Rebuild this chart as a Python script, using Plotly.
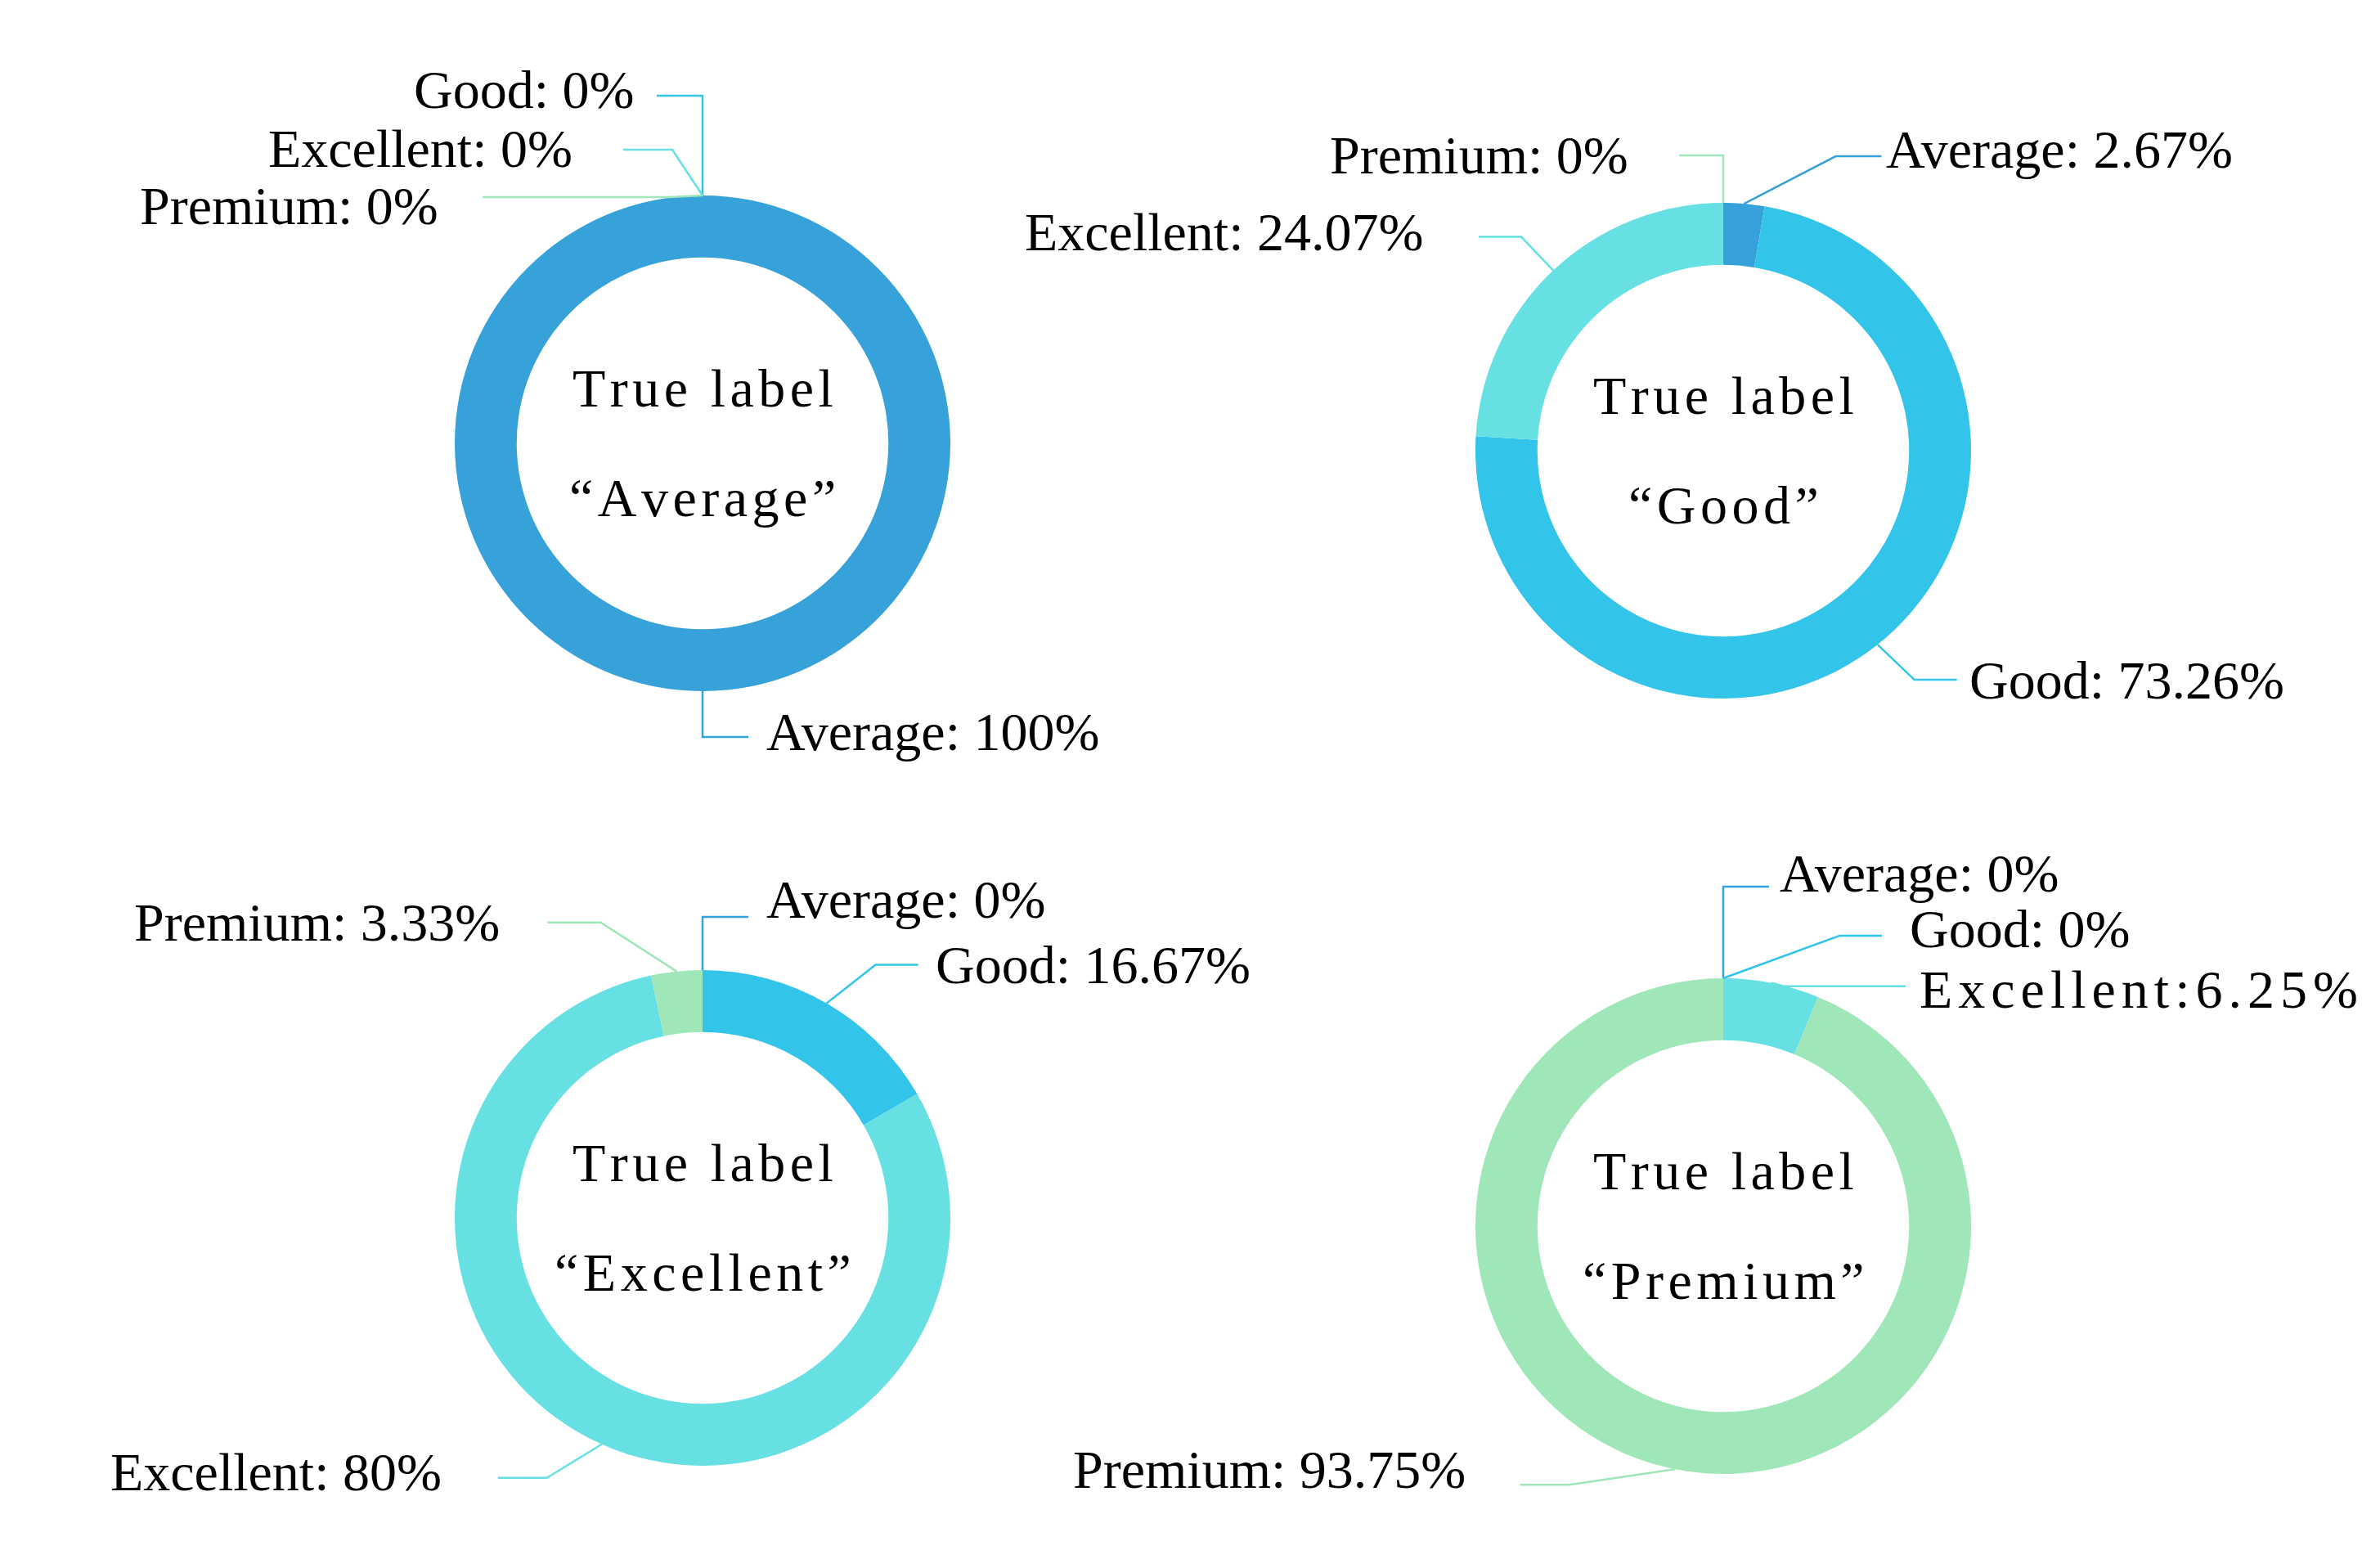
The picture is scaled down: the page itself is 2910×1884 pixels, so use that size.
import math
import plotly.graph_objects as go

# canvas size (px)
W, H = 2910, 1884
FONT = "Liberation Serif"

# categories and colours (ECharts default palette)
categories = ["Average", "Good", "Excellent", "Premium"]
colors = ["#37A2DA", "#32C5E9", "#67E0E3", "#9FE6B8"]

# predicted share (%) for each true label
true_labels = ["Average", "Good", "Excellent", "Premium"]
pct_average = [100, 0, 0, 0]
pct_good = [2.67, 73.26, 24.07, 0]
pct_excellent = [0, 16.67, 80, 3.33]
pct_premium = [0, 0, 6.25, 93.75]
shares = [pct_average, pct_good, pct_excellent, pct_premium]

# layout: donut centres and radius in pixels
centers = [(851, 534), (2099, 543), (851, 1481), (2099, 1491)]
R = 303
HOLE = 0.75

# label lines per slice: (elbow dx, elbow dy, horizontal run, text gap, text dy)
leaders = [
    [(0, 56, 56, 20, -6), (0, -122, -56, 26, -8), (-37, -56, -60, 60, -1), (-41, 2, -228, 52, 11)],
    [(112, -58, 56, 4, -9), (45, 43, 52, 13, 0), (-39, -41, -52, 65, -6), (0, -58, -54, 60, 0)],
    [(0, -65, 56, 20, -22), (60, -47, 52, 19, 0), (-67, 41, -60, 67, -7), (-93, -60, -65, 56, 0)],
    [(0, -112, 56, 11, -17), (142, -52, 52, 32, -9), (15, 4, 149, 15, 4), (-129, 19, -60, 65, -19)],
]
spaced = {(3, 2)}  # label typed with tracking in the original


def px(x):
    return x / W


def py(y):
    return 1 - y / H


def tracked(s):
    # widen the centre captions a little, like the original
    return "\u200a".join(s)


fig = go.Figure()
shapes = []
annotations = []

for k, vals in enumerate(shares):
    cx, cy = centers[k]
    fig.add_trace(go.Pie(
        labels=categories, values=vals, hole=HOLE, sort=False,
        direction="clockwise", rotation=0, textinfo="none",
        marker=dict(colors=colors, line=dict(width=0)),
        domain=dict(x=[px(cx - R), px(cx + R)], y=[py(cy + R), py(cy - R)]),
        showlegend=False, hoverinfo="label+percent",
    ))

    total = sum(vals)
    cum = 0
    for i, v in enumerate(vals):
        theta = math.radians(360 * (cum + v / 2) / total)
        cum += v
        x0 = cx + R * math.sin(theta)
        y0 = cy - R * math.cos(theta)
        dx, dy, run, gap, tdy = leaders[k][i]
        x1, y1 = x0 + dx, y0 + dy
        x2 = x1 + run
        shapes.append(dict(
            type="path", xref="paper", yref="paper",
            path=f"M {px(x0)},{py(y0)} L {px(x1)},{py(y1)} L {px(x2)},{py(y1)}",
            line=dict(color=colors[i], width=2.5),
        ))
        if (k, i) in spaced:
            txt = f"<span style='letter-spacing:7px'>{categories[i]}:{v:g}%</span>"
        else:
            txt = f"{categories[i]}: {v:g}%"
        side = 1 if run > 0 else -1
        annotations.append(dict(
            x=px(x2 + side * gap), y=py(y1 + tdy), xref="paper", yref="paper",
            text=txt, showarrow=False,
            xanchor="left" if side > 0 else "right", yanchor="middle",
            font=dict(family=FONT, size=66, color="#000000"),
        ))

    # centre text
    annotations.append(dict(
        x=px(cx), y=py(cy), xref="paper", yref="paper", yshift=68,
        xanchor="center", yanchor="middle",
        text=tracked("True label"),
        showarrow=False, font=dict(family=FONT, size=66, color="#000000"),
    ))
    annotations.append(dict(
        x=px(cx), y=py(cy), xref="paper", yref="paper", yshift=-66,
        xanchor="center", yanchor="middle",
        text=tracked(f"\u201c{true_labels[k]}\u201d"),
        showarrow=False, font=dict(family=FONT, size=66, color="#000000"),
    ))

fig.update_layout(
    width=W, height=H,
    margin=dict(l=0, r=0, t=0, b=0),
    paper_bgcolor="white", plot_bgcolor="white",
    shapes=shapes, annotations=annotations,
)

fig.write_html("out.html")
